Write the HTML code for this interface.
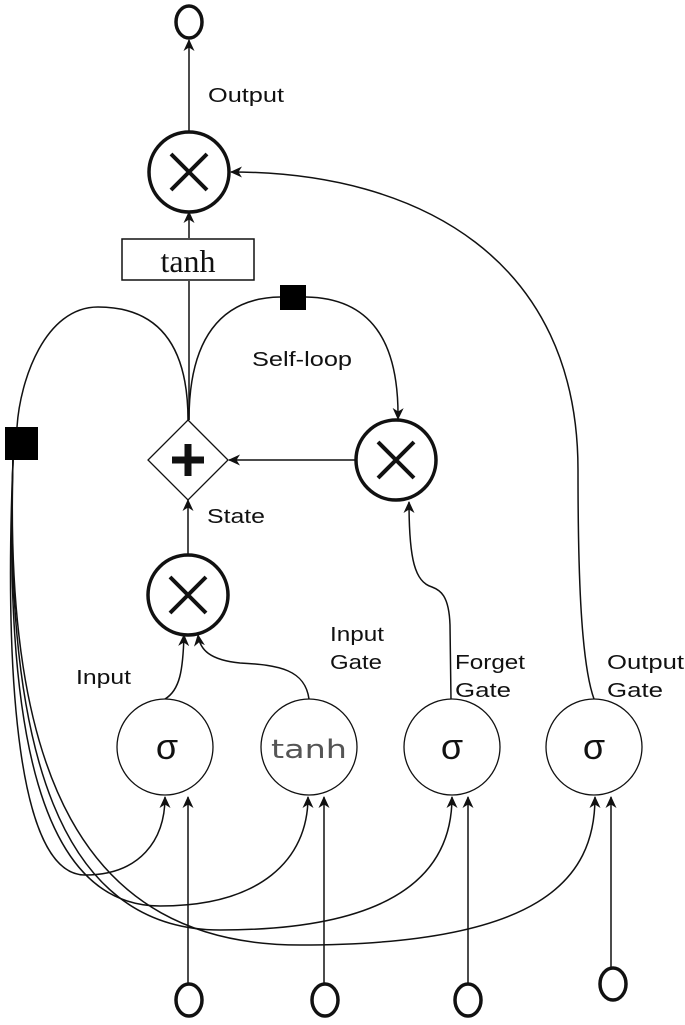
<!DOCTYPE html>
<html><head><meta charset="utf-8"><style>
html,body{margin:0;padding:0;background:#fff}
svg{display:block}
text{font-family:"Liberation Sans",sans-serif;fill:#111}
</style></head><body>
<svg width="685" height="1025" viewBox="0 0 685 1025" xmlns="http://www.w3.org/2000/svg">
<defs>
<marker id="a" markerWidth="12" markerHeight="12" refX="11" refY="6" orient="auto" markerUnits="userSpaceOnUse">
<path d="M0,0.5 L12,6 L0,11.5 L3.5,6 Z" fill="#111"/>
</marker>
</defs>
<g fill="none" stroke="#111" stroke-width="1.5">
<line x1="189" y1="133" x2="189" y2="40" marker-end="url(#a)"/>
<line x1="189" y1="238" x2="189" y2="212" marker-end="url(#a)"/>
<line x1="189" y1="420" x2="189" y2="281"/>
<path d="M188,420 C188,335 150,307 98,307 C45,307 20,380 17,427"/>
<path d="M189,420 C189,340 220,298 280,297"/>
<path d="M306,297 C370,298 399,340 398,419" marker-end="url(#a)"/>
<line x1="355" y1="460" x2="229" y2="460" marker-end="url(#a)"/>
<line x1="188" y1="555" x2="188" y2="500" marker-end="url(#a)"/>
<path d="M165,699 C180,690 183,670 184,635" marker-end="url(#a)"/>
<path d="M309,699 C305,670 280,665 240,663 C210,660 200,650 198,635" marker-end="url(#a)"/>
<path d="M451,700 L450,625 C449,595 440,590 432,587 C415,582 409,560 409,502" marker-end="url(#a)"/>
<path d="M594,699 C580,660 578,560 578,470 C578,260 420,172 231,172" marker-end="url(#a)"/>
<path d="M13,460 C4,680 18,875 85,875 C140,875 165,840 165,797" marker-end="url(#a)"/>
<path d="M13,460 C4,730 40,906 160,906 C260,906 308,860 308,797" marker-end="url(#a)"/>
<path d="M13,460 C4,750 60,930 220,930 C400,930 452,870 452,797" marker-end="url(#a)"/>
<path d="M13,460 C4,770 80,945 300,945 C540,945 595,880 595,797" marker-end="url(#a)"/>
<line x1="188" y1="983" x2="188" y2="797" marker-end="url(#a)"/>
<line x1="324" y1="983" x2="324" y2="797" marker-end="url(#a)"/>
<line x1="468" y1="983" x2="468" y2="797" marker-end="url(#a)"/>
<line x1="611" y1="967" x2="611" y2="797" marker-end="url(#a)"/>
</g>
<g fill="#fff" stroke="#111" stroke-width="3.5">
<ellipse cx="189" cy="22" rx="13" ry="16"/>
<ellipse cx="189" cy="1000" rx="13" ry="16"/>
<ellipse cx="325" cy="1000" rx="13" ry="16"/>
<ellipse cx="468" cy="1000" rx="13" ry="16"/>
<ellipse cx="613" cy="984" rx="13" ry="16"/>
<circle cx="189" cy="172" r="40"/>
<circle cx="396" cy="460" r="40"/>
<circle cx="188" cy="595" r="40"/>
</g>
<g stroke="#111" stroke-width="4">
<path d="M171,154 L207,190 M207,154 L171,190"/>
<path d="M378,442 L414,478 M414,442 L378,478"/>
<path d="M170,577 L206,613 M206,577 L170,613"/>
</g>
<rect x="122" y="239" width="132" height="41" fill="#fff" stroke="#111" stroke-width="1.5"/>
<text x="188" y="272" text-anchor="middle" style="font-family:'Liberation Serif',serif;font-size:32px">tanh</text>
<polygon points="188,420 228,460 188,500 148,460" fill="#fff" stroke="#111" stroke-width="1.3"/>
<path d="M188,444 V476 M172,460 H204" stroke="#111" stroke-width="7"/>
<rect x="280" y="285" width="26" height="25" fill="#000"/>
<rect x="5" y="427" width="33" height="33" fill="#000"/>
<g fill="#fff" stroke="#111" stroke-width="1.3">
<circle cx="165" cy="747" r="48"/>
<circle cx="309" cy="747" r="48"/>
<circle cx="452" cy="747" r="48"/>
<circle cx="594" cy="747" r="48"/>
</g>
<g style="font-family:'Liberation Serif',serif;font-size:36px" text-anchor="middle">
<text x="167" y="759">σ</text>
<text x="452" y="759">σ</text>
<text x="594" y="759">σ</text>
</g>
<text x="309" y="758" text-anchor="middle" textLength="76" lengthAdjust="spacingAndGlyphs" style="font-family:'DejaVu Sans',sans-serif;font-size:26px;fill:#555">tanh</text>
<g font-size="20" lengthAdjust="spacingAndGlyphs">
<text x="208" y="102" textLength="76" lengthAdjust="spacingAndGlyphs">Output</text>
<text x="252" y="366" textLength="100" lengthAdjust="spacingAndGlyphs">Self-loop</text>
<text x="207" y="523" textLength="58" lengthAdjust="spacingAndGlyphs">State</text>
<text x="76" y="684" textLength="55" lengthAdjust="spacingAndGlyphs">Input</text>
<text x="330" y="641" textLength="54" lengthAdjust="spacingAndGlyphs">Input</text>
<text x="330" y="669" textLength="52" lengthAdjust="spacingAndGlyphs">Gate</text>
<text x="455" y="669" textLength="70" lengthAdjust="spacingAndGlyphs">Forget</text>
<text x="455" y="697" textLength="56" lengthAdjust="spacingAndGlyphs">Gate</text>
<text x="607" y="669" textLength="77" lengthAdjust="spacingAndGlyphs">Output</text>
<text x="607" y="697" textLength="56" lengthAdjust="spacingAndGlyphs">Gate</text>
</g>
</svg>
</body></html>
